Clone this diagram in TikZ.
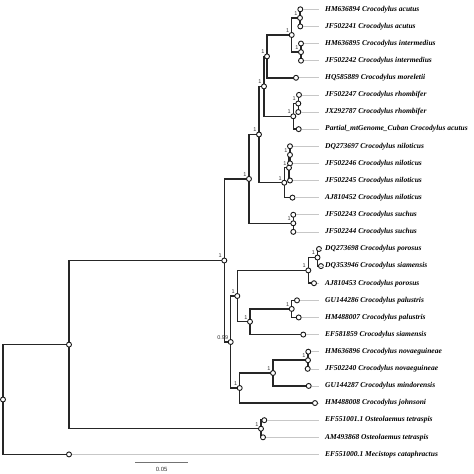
\documentclass[tikz,border=0pt]{standalone}
\usepackage{fontspec}
\setmainfont{Liberation Serif}
\newfontfamily\lblfont{Liberation Sans}
\pgfdeclarelayer{bg}
\pgfsetlayers{bg,main}
\tikzset{
 nd/.style={circle,draw=black!90,fill=white,line width=0.9pt,minimum size=5pt,inner sep=0pt},
 br/.style={draw=black!85,line width=1.5pt},
 leader/.style={draw=black!22,line width=0.6pt},
 taxon/.style={anchor=west,inner sep=0pt,font=\fontsize{7.5}{9}\selectfont\bfseries\itshape},
 lbl/.style={font=\lblfont\fontsize{5.5}{6}\selectfont,inner sep=0.3pt,text=black!80},
 supp/.style={label={[lbl,label distance=0pt]135:#1}},
}
\begin{document}
\begin{tikzpicture}[x=1pt,y=-1pt]
\useasboundingbox (0,0) rectangle (474,474);
% leaves
\foreach \i/\x/\t in {
 0/300.3/HM636894 Crocodylus acutus,
 1/300.3/JF502241 Crocodylus acutus,
 2/301/HM636895 Crocodylus intermedius,
 3/301/JF502242 Crocodylus intermedius,
 4/296/HQ585889 Crocodylus moreletii,
 5/299/JF502247 Crocodylus rhombifer,
 6/298.3/JX292787 Crocodylus rhombifer,
 7/298.7/Partial\_mtGenome\_Cuban Crocodylus acutus,
 8/290/DQ273697 Crocodylus niloticus,
 9/290/JF502246 Crocodylus niloticus,
 10/290/JF502245 Crocodylus niloticus,
 11/292.5/AJ810452 Crocodylus niloticus,
 12/293.3/JF502243 Crocodylus suchus,
 13/293.3/JF502244 Crocodylus suchus,
 14/319/DQ273698 Crocodylus porosus,
 15/321/DQ353946 Crocodylus siamensis,
 16/314/AJ810453 Crocodylus porosus,
 17/297/GU144286 Crocodylus palustris,
 18/298.7/HM488007 Crocodylus palustris,
 19/303.3/EF581859 Crocodylus siamensis,
 20/308.3/HM636896 Crocodylus novaeguineae,
 21/307.7/JF502240 Crocodylus novaeguineae,
 22/308.7/GU144287 Crocodylus mindorensis,
 23/315/HM488008 Crocodylus johnsoni,
 24/264.3/EF551001.1 Osteolaemus tetraspis,
 25/263/AM493868 Osteolaemus tetraspis,
 26/69/EF551000.1 Mecistops cataphractus}{
  \node[nd] (l\i) at (\x,{9.3+17.12*\i}) {};
  \node[taxon] (t\i) at (325,{9.3+17.12*\i}) {\t};
  \draw[leader,shorten >=6pt] (l\i) -- (t\i.west);
}
% internal nodes
\node[nd,supp=1] (Q1) at (300,17.9) {};
\node[nd,supp=1] (Q2) at (301,52.1) {};
\node[nd,supp=1] (Q) at (291.7,35) {};
\node[nd,supp=1] (P) at (267,56.4) {};
\node[nd,supp=1] (T1) at (298.3,103.5) {};
\node[nd,supp=1] (T) at (293.3,116.3) {};
\node[nd,supp=1] (R) at (264,86.4) {};
\node[nd,supp=1] (V2) at (290,154.9) {};
\node[nd,supp=1] (V1) at (289,167.7) {};
\node[nd,supp=1] (V) at (284.3,182.7) {};
\node[nd,supp=1] (U) at (259,134.5) {};
\node[nd,supp=1] (S) at (293.3,223.3) {};
\node[nd,supp=1] (E) at (249,178.9) {};
\node[nd,supp=1] (K) at (317.5,257.5) {};
\node[nd,supp=1] (I) at (308.3,270.4) {};
\node[nd,supp=1] (L) at (291.7,308.9) {};
\node[nd,supp=1] (J) at (250,321.7) {};
\node[nd,supp=1] (G) at (237.3,296) {};
\node[nd,supp=1] (N) at (308,360.2) {};
\node[nd,supp=1] (M) at (273,373) {};
\node[nd,supp=1] (H) at (239.7,388) {};
\node[nd,supp=0.99] (D) at (230.7,342) {};
\node[nd,supp=1] (B) at (224.3,260.5) {};
\node[nd,supp=1] (O) at (261,428.7) {};
\node[nd] (A) at (69,344.6) {};
\node[nd] (root) at (3,399.5) {};
% branches
\begin{pgfonlayer}{bg}
\foreach \p/\c in {Q1/l0,Q1/l1,Q2/l2,Q2/l3,Q/Q1,Q/Q2,P/Q,P/l4,T1/l5,T1/l6,T/T1,T/l7,R/P,R/T,
 V2/l8,V2/l9,V1/V2,V1/l10,V/V1,V/l11,U/R,U/V,S/l12,S/l13,E/U,E/S,K/l14,K/l15,I/K,I/l16,
 L/l17,L/l18,J/L,J/l19,G/I,G/J,N/l20,N/l21,M/N,M/l22,H/M,H/l23,D/G,D/H,B/E,B/D,
 O/l24,O/l25,A/B,A/O,root/A,root/l26}
 \draw[br] (\p.center) |- (\c.center);
\end{pgfonlayer}
% scale bar
\coordinate (sb1) at (135,462.7);
\coordinate (sb2) at (188,462.7);
\draw[draw=black!55,line width=0.8pt] (sb1) -- (sb2);
\node[lbl,font=\lblfont\fontsize{6}{7}\selectfont] (sbl) at (161.7,469.5) {0.05};
\end{tikzpicture}
\end{document}
